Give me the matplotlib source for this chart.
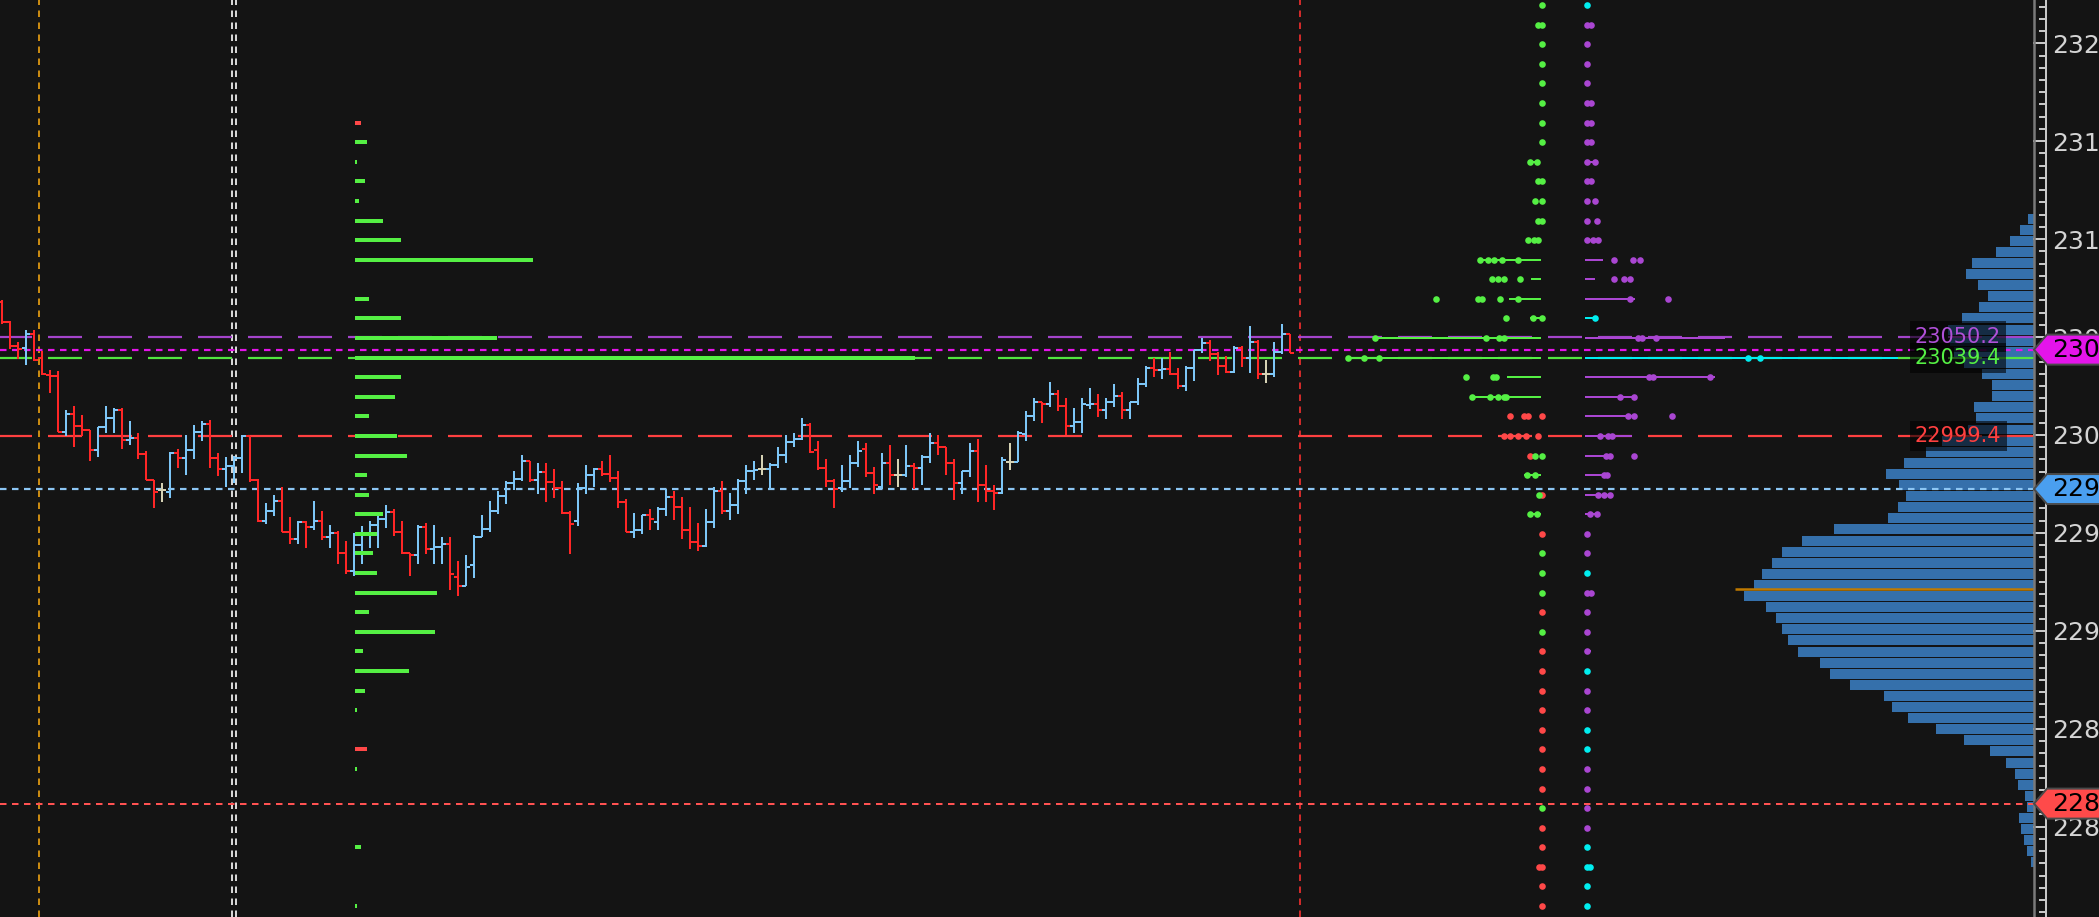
import numpy as np
import matplotlib
matplotlib.use("Agg")
import matplotlib.pyplot as plt
from matplotlib.ticker import MultipleLocator, FormatStrFormatter
from matplotlib.patches import Polygon
import matplotlib.transforms as mtransforms

plt.rcParams['lines.scale_dashes'] = False
plt.rcParams['font.family'] = ['DejaVu Sans']

# ---------------- DATA ----------------
opens = [23068.1, 23057.5, 23045.2, 23044.3, 23051.6, 23039.2, 23030.8, 23029.9, 23001.6, 23010.6,
         23004.7, 23002.5, 22992.4, 23003.9, 23008.8, 23012.8, 22997.4, 22998.6, 22990.3, 22977.1,
         22971.7, 22971.0, 22990.7, 22988.5, 22992.5, 23001.6, 23005.7, 22988.5, 22982.4, 22984.4,
         22988.5, 22999.5, 22977.1, 22956.2, 22961.2, 22966.3, 22950.7, 22947.0, 22955.8, 22952.8,
         22956.2, 22947.7, 22950.1, 22939.9, 22930.4, 22943.6, 22948.7, 22953.8, 22957.2, 22960.9,
         22950.7, 22939.9, 22938.6, 22952.8, 22942.0, 22943.0, 22944.6, 22927.7, 22922.7, 22933.5,
         22948.0, 22952.1, 22961.2, 22969.0, 22975.4, 22977.5, 22986.6, 22977.1, 22981.2, 22976.1,
         22972.7, 22960.2, 22956.2, 22972.7, 22979.5, 22982.6, 22980.2, 22978.2, 22966.0, 22950.7,
         22951.7, 22959.2, 22955.8, 22962.3, 22968.3, 22963.3, 22951.7, 22945.2, 22943.1, 22955.8,
         22971.4, 22961.2, 22964.3, 22976.5, 22981.5, 22982.6, 22982.6, 22984.6, 22989.7, 22996.4,
         22997.8, 23004.9, 22992.4, 22982.9, 22976.5, 22973.1, 22976.5, 22985.6, 22992.7, 22980.5,
         22973.4, 22985.6, 22979.5, 22979.5, 22984.2, 22983.2, 22988.7, 22995.8, 22993.7, 22985.6,
         22975.4, 22981.5, 22991.7, 22974.4, 22971.4, 22970.4, 22986.3, 22986.3, 23000.5, 23009.6,
         23016.7, 23015.7, 23020.8, 23014.7, 23004.5, 23006.6, 23015.4, 23015.7, 23013.0, 23017.1,
         23020.1, 23013.0, 23017.1, 23026.2, 23034.3, 23033.3, 23033.5, 23031.3, 23025.2, 23034.3,
         23043.5, 23047.2, 23041.4, 23035.4, 23032.3, 23044.5, 23039.4, 23047.5, 23031.3, 23031.3,
         23042.5, 23051.6]
highs = [23068.9, 23058.0, 23047.3, 23053.6, 23053.6, 23043.1, 23033.3, 23032.5, 23013.0, 23015.0,
         23010.0, 23002.5, 23003.9, 23015.0, 23014.0, 23014.0, 23006.9, 23000.8, 22991.7, 22977.1,
         22975.4, 22991.5, 22992.7, 22999.8, 23004.9, 23006.9, 23007.9, 22990.7, 22988.7, 22989.3,
         22999.8, 22999.5, 22977.5, 22965.3, 22969.4, 22973.4, 22958.2, 22956.2, 22956.2, 22966.3,
         22961.2, 22954.1, 22951.1, 22946.0, 22950.1, 22953.4, 22956.2, 22959.2, 22964.3, 22962.3,
         22956.2, 22939.9, 22954.1, 22955.2, 22954.1, 22948.0, 22948.0, 22935.9, 22938.9, 22949.1,
         22959.2, 22966.3, 22971.4, 22976.5, 22981.5, 22989.7, 22986.6, 22985.6, 22985.6, 22982.6,
         22976.5, 22961.2, 22975.4, 22984.6, 22982.9, 22986.6, 22989.7, 22981.5, 22967.3, 22960.2,
         22959.2, 22962.3, 22963.3, 22972.4, 22971.4, 22968.3, 22963.3, 22955.3, 22962.3, 22973.4,
         22976.5, 22970.4, 22977.5, 22984.6, 22986.6, 22989.7, 22985.6, 22993.7, 22999.8, 23000.8,
         23008.9, 23005.9, 22996.8, 22987.6, 22977.5, 22984.6, 22989.7, 22996.8, 22995.8, 22983.6,
         22990.7, 22994.7, 22987.6, 22994.7, 22985.6, 22989.7, 23000.8, 22999.8, 22993.7, 22987.6,
         22981.5, 22995.8, 22997.8, 22984.6, 22974.4, 22988.7, 22995.8, 23001.9, 23012.0, 23019.1,
         23017.1, 23027.2, 23023.2, 23019.1, 23014.0, 23019.1, 23024.2, 23021.1, 23019.1, 23026.2,
         23022.2, 23017.1, 23029.3, 23035.4, 23039.4, 23039.4, 23042.5, 23034.3, 23035.4, 23043.5,
         23049.6, 23048.6, 23042.5, 23040.4, 23045.5, 23045.5, 23055.7, 23048.6, 23038.4, 23047.5,
         23056.7, 23051.6]
lows = [23056.7, 23044.0, 23038.9, 23035.9, 23038.0, 23030.8, 23021.4, 23001.6, 22999.5, 22994.0,
        22999.6, 22986.9, 22989.0, 23001.1, 23001.1, 22993.0, 22995.0, 22987.9, 22977.1, 22962.6,
        22965.6, 22967.6, 22982.9, 22979.8, 22987.9, 22997.1, 22982.9, 22979.2, 22973.7, 22975.4,
        22980.8, 22976.1, 22955.8, 22954.4, 22958.5, 22950.7, 22944.3, 22944.3, 22942.3, 22951.4,
        22946.3, 22942.3, 22934.1, 22929.1, 22928.0, 22934.1, 22942.3, 22942.3, 22952.4, 22948.4,
        22939.2, 22928.0, 22934.1, 22939.2, 22934.1, 22934.1, 22920.9, 22917.9, 22922.7, 22927.0,
        22948.0, 22950.4, 22959.5, 22964.6, 22971.7, 22976.5, 22976.1, 22969.7, 22965.6, 22967.6,
        22959.5, 22939.2, 22953.4, 22969.7, 22973.7, 22979.2, 22975.8, 22962.6, 22950.4, 22947.3,
        22949.2, 22951.7, 22951.7, 22958.5, 22956.5, 22946.7, 22941.6, 22940.6, 22942.6, 22952.4,
        22959.5, 22956.5, 22959.5, 22969.7, 22976.8, 22979.8, 22972.4, 22982.9, 22985.9, 22994.0,
        22997.4, 22991.0, 22982.2, 22973.7, 22962.6, 22970.7, 22972.7, 22983.9, 22978.8, 22969.7,
        22972.4, 22974.7, 22973.7, 22978.8, 22972.4, 22974.7, 22985.9, 22990.0, 22979.8, 22966.6,
        22969.7, 22978.8, 22965.6, 22965.6, 22961.5, 22969.7, 22981.9, 22986.3, 22997.1, 23007.2,
        23006.2, 23014.3, 23012.3, 22999.8, 23001.1, 23001.1, 23013.3, 23009.3, 23008.3, 23014.3,
        23008.3, 23008.3, 23015.4, 23024.5, 23029.6, 23028.6, 23030.6, 23023.5, 23022.5, 23027.5,
        23041.7, 23037.7, 23030.6, 23031.6, 23031.6, 23034.7, 23031.6, 23028.6, 23026.5, 23029.6,
        23041.4, 23041.7]
closes = [23057.5, 23045.2, 23044.0, 23051.6, 23038.4, 23030.9, 23029.9, 23001.6, 23010.6, 23004.7,
          23002.5, 22992.4, 23003.9, 23008.8, 23012.8, 22997.4, 22998.6, 22990.3, 22977.1, 22971.0,
          22971.7, 22990.7, 22988.5, 22992.5, 23001.6, 23005.7, 22988.5, 22982.4, 22984.4, 22988.5,
          22999.5, 22977.1, 22956.2, 22961.2, 22966.3, 22950.7, 22947.0, 22955.8, 22952.8, 22956.2,
          22947.7, 22950.1, 22939.9, 22930.4, 22943.6, 22948.7, 22953.8, 22957.2, 22960.9, 22950.7,
          22939.9, 22938.6, 22952.8, 22942.0, 22943.0, 22944.6, 22928.8, 22922.7, 22932.8, 22948.0,
          22952.1, 22961.2, 22969.0, 22975.4, 22977.5, 22986.6, 22977.1, 22981.2, 22976.1, 22972.7,
          22960.2, 22954.8, 22972.7, 22979.5, 22982.6, 22980.2, 22978.2, 22966.0, 22950.7, 22951.7,
          22959.2, 22957.2, 22962.3, 22968.3, 22963.3, 22951.7, 22945.2, 22943.1, 22955.8, 22971.4,
          22961.2, 22964.3, 22976.5, 22981.5, 22982.2, 22982.6, 22984.6, 22989.7, 22996.4, 22997.8,
          23004.9, 22991.3, 22982.9, 22976.5, 22972.4, 22976.5, 22985.6, 22991.7, 22980.5, 22974.4,
          22985.6, 22979.5, 22979.5, 22984.2, 22983.2, 22988.7, 22995.8, 22993.7, 22985.6, 22975.4,
          22981.5, 22991.7, 22974.4, 22971.4, 22970.4, 22987.3, 22986.3, 23000.8, 23009.6, 23016.7,
          23015.7, 23020.8, 23014.7, 23004.5, 23006.6, 23015.7, 23015.7, 23013.0, 23017.1, 23020.1,
          23013.0, 23017.1, 23026.2, 23034.3, 23033.3, 23033.5, 23031.3, 23025.2, 23034.3, 23043.5,
          23047.2, 23041.4, 23035.4, 23032.3, 23044.5, 23039.4, 23047.5, 23031.3, 23031.3, 23042.5,
          23051.6, 23042.1]

# left session histogram (green / red)
hist_levels = [23159.5, 23149.5, 23139.5, 23129.5, 23119.5, 23109.5, 23099.5, 23089.5, 23069.5, 23059.5,
               23049.5, 23039.5, 23029.5, 23019.5, 23009.5, 22999.5, 22989.5, 22979.5, 22969.5, 22959.5,
               22949.5, 22939.5, 22929.5, 22919.5, 22909.5, 22899.5, 22889.5, 22879.5, 22869.5, 22859.5,
               22839.5, 22829.5, 22789.5, 22759.5]
hist_vol = [6, 12, 2, 10, 4, 28, 46, 178, 14, 46, 142, 560, 46, 40, 14, 42, 52, 12, 14, 28,
            22, 18, 22, 82, 14, 80, 8, 54, 10, 2, 12, 2, 6, 2]
hist_col = "RGGGGGGGGGGGGGGGGGGGGGGGGGGGGGRGGG"

# right volume profile
profile_top = 23110.5
profile_step = 5.668
profile_vol = [6, 14, 24, 38, 62, 68, 56, 46, 55, 72, 86, 84, 80, 70, 52, 42, 42, 60, 58, 66,
               92, 108, 130, 148, 135, 128, 136, 146, 200, 232, 252, 262, 272, 280, 290, 268, 258, 252, 246, 236,
               214, 204, 184, 150, 142, 126, 98, 70, 44, 28, 19, 16, 9, 7, 15, 13, 10, 7, 3]
poc_price = 22921.4

# key levels
level_purple = 23050.2
level_green = 23039.4
level_red = 22999.4
last_price = 23043.6
blue_price = 22972.4
low_price = 22811.8

# footprint ladder (10-pt rows)
fp_levels = np.arange(23219.5, 22755.0, -10.0)
fpA_base = "GGGGGGGG-GGG----G----R-G-R-RGGGRGRRRRRRRRGRRRRR"
fpB_base = "CPPPPPPPPPPPP--------------PPCPPPPCPPCCPPPPCCCC"
fpA_line_k = [13, 14, 15, 16, 17, 18, 19, 20, 22, 24, 26, 8]
fpA_line_from = [184.8, 191.2, 188.4, 191.0, 171.7, 168.3, 188.2, 183.8, 187.0, 190.3, 191.0, 191.0]
fpA_line_to = [192.4, 192.4, 192.4, 192.5, 192.4, 192.4, 192.4, 192.4, 191.3, 192.4, 192.4, 191.9]
fpA_line_c = "GGGGGGGGRGGG"
fpA_dot_k = [1, 8, 8, 9, 10, 11, 12, 12, 12, 13, 13, 13, 13, 13, 14, 14, 14, 14, 15, 15, 15, 15, 15,
             16, 16, 17, 17, 17, 17, 18, 18, 18, 19, 19, 19, 20, 20, 20, 20, 20, 21, 21, 21,
             22, 22, 22, 22, 22, 23, 23, 24, 24, 25, 26, 26, 44]
fpA_dot_x = [192.0, 191.0, 191.9, 192.0, 191.6, 192.0, 190.8, 191.5, 192.0,
             184.8, 185.8, 186.5, 187.5, 189.5, 186.3, 187.0, 187.8, 189.8,
             179.3, 184.5, 185.0, 187.3, 189.5, 188.0, 191.4, 171.7, 185.5, 187.2, 187.8,
             168.3, 170.3, 172.2, 183.0, 186.4, 186.8, 183.8, 186.0, 187.0, 187.8, 188.0,
             188.5, 190.3, 190.8, 187.8, 188.5, 189.5, 190.5, 192.0, 191.0, 191.6,
             190.7, 191.7, 192.2, 191.0, 191.9, 192.1]
fpA_dot_c = "GGGGGGGGGGGGGGGGGGGGGGGGGGGGGGGGGGGGGGGGRRRRRRRRRGGGGGGR"
fpB_line_k = [12, 13, 14, 15, 16, 17, 18, 19, 20, 21, 22, 23, 24, 25, 26, 8, 30, 33]
fpB_line_to = [199.8, 200.2, 199.2, 204.2, 199.2, 215.4, 237.0, 214.2, 204.4, 204.4, 203.8, 201.0,
               200.7, 201.3, 199.8, 199.2, 198.6, 198.6]
fpB_line_c = "PPPPCPCPPPPPPPPPPP"
fpB_dot_k = [1, 5, 6, 7, 8, 9, 10, 11, 12, 12, 13, 13, 13, 14, 14, 14, 15, 15, 16, 17, 17, 17, 18, 18,
             19, 19, 19, 20, 20, 21, 21, 21, 22, 22, 22, 23, 23, 23, 24, 24, 25, 25, 25, 26, 26, 30, 44]
fpB_dot_x = [198.7, 198.7, 198.7, 198.7, 199.2, 198.7, 199.2, 199.4, 198.9, 199.5,
             201.5, 203.9, 204.8, 201.5, 202.8, 203.5, 203.5, 208.3, 199.2,
             204.5, 205.0, 206.8, 218.3, 219.8, 205.9, 206.4, 213.5, 202.3, 204.0,
             203.3, 204.0, 208.8, 199.8, 200.8, 201.3, 200.5, 201.0, 204.0,
             200.3, 200.7, 199.5, 200.3, 201.0, 198.5, 199.4, 198.6, 198.5]
fpB_dot_c = "PPPPPPPPPPPPPPPPPPCPPPCCPPPPPPPPPPPPPPPPPPPPPPC"

# ---------------- STYLE / LAYOUT ----------------
W, H, DPI = 2099, 917, 100
BG = '#141414'
AX_W = 2034
PX_PER_BAR = 8.0
X0 = -0.2125
Y_TOP, Y_BOT = 23222.1, 22753.9
PT_PER_PX = (Y_TOP - Y_BOT) / H


def pt(px):
    return px * 72.0 / DPI


def px_to_x(px):
    return X0 + px / PX_PER_BAR


C_UP, C_DN, C_DOJI = '#7dc6f7', '#ff2626', '#d6d2b4'
FP_COL = {'G': '#55f044', 'R': '#ff4848', 'P': '#aa46d2', 'C': '#00eef0'}
LV_PURPLE, LV_GREEN, LV_RED = '#a444cc', '#52e640', '#ff4040'

fig = plt.figure(figsize=(W / DPI, H / DPI), dpi=DPI, facecolor=BG)
ax = fig.add_axes([0, 0, AX_W / W, 1])
ax.set_facecolor(BG)
for s in ax.spines.values():
    s.set_visible(False)
ax.set_xticks([])
ax.set_yticks([])
XMAX = X0 + AX_W / PX_PER_BAR
ax.set_xlim(X0, XMAX)
ax.set_ylim(Y_BOT, Y_TOP)

# volume profile (right aligned)
prof_levels = profile_top - profile_step * np.arange(len(profile_vol))
pv = np.array(profile_vol, dtype=float) / PX_PER_BAR
ax.barh(prof_levels, pv, left=XMAX - pv, height=profile_step * 0.9,
        color='#3570ab', edgecolor='none', zorder=1)
ax.hlines(poc_price, XMAX - max(profile_vol) * 1.03 / PX_PER_BAR, XMAX,
          color='#c07a00', lw=pt(2.5), zorder=1.5)

# vertical markers
sd = (0, (pt(6.5), pt(5.5)))
ax.axvline(px_to_x(39), color='#c98a12', lw=pt(2), ls=sd, zorder=2)
ax.axvline(px_to_x(232.3), color='#d6d6d6', lw=pt(2), ls=sd, zorder=2)
ax.axvline(px_to_x(235.8), color='#d6d6d6', lw=pt(2), ls=sd, zorder=2)
ax.axvline(px_to_x(1299.5), color='#ff3030', lw=pt(1.6), ls=sd, zorder=2)

# cyan line under green level (drawn first, dashes on top)
ax.hlines(level_green, 197.9, px_to_x(1898), color='#00eef0', lw=pt(1.8), zorder=1.9)

# long-dashed key levels
ld = (pt(2), (pt(34), pt(16)))
for val, colr in [(level_purple, LV_PURPLE), (level_green, LV_GREEN), (level_red, LV_RED)]:
    ax.axhline(val, color=colr, lw=pt(2.2), ls=ld, zorder=2)
    # solid leaders around the price label
    ax.hlines(val, px_to_x(1898), px_to_x(1912), color=colr, lw=pt(2), zorder=2.1)
    ax.hlines(val, px_to_x(1997), XMAX, color=colr, lw=pt(2), zorder=2.1)

# short dashed price lines
ax.axhline(last_price, color='#e414ea', lw=pt(2.2), ls=sd, zorder=2.2)
ax.axhline(blue_price, color='#8cc6f4', lw=pt(2.2), ls=sd, zorder=2.2)
ax.axhline(low_price, color='#ff5252', lw=pt(2), ls=sd, zorder=2.2)

# OHLC bars
n = len(opens)
x = np.arange(n)
cols = [C_UP if c > o else (C_DN if c < o else C_DOJI) for o, c in zip(opens, closes)]
ax.vlines(x, lows, highs, colors=cols, lw=pt(2), zorder=3)
ax.hlines(opens, x - 0.5, x, colors=cols, lw=pt(2), zorder=3)
ax.hlines(closes, x, x + 0.5, colors=cols, lw=pt(2), zorder=3)

# left session histogram
hv = np.array(hist_vol, dtype=float) / PX_PER_BAR
ax.barh(hist_levels, hv, left=px_to_x(355), height=4 * PT_PER_PX,
        color=[FP_COL[c] for c in hist_col], edgecolor='none', zorder=4)

# footprint columns
COL_A, COL_B = 192.5, 198.2
ms = pt(6.6)
for k, x1, x2, c in zip(fpA_line_k, fpA_line_from, fpA_line_to, fpA_line_c):
    ax.hlines(fp_levels[k], x1, x2, color=FP_COL[c], lw=pt(2), zorder=5)
for k, x2, c in zip(fpB_line_k, fpB_line_to, fpB_line_c):
    ax.hlines(fp_levels[k], 197.9, x2, color=FP_COL[c], lw=pt(2), zorder=5)
for k, c in enumerate(fpA_base):
    if c != '-':
        ax.plot(COL_A, fp_levels[k], 'o', color=FP_COL[c], ms=ms, mec='none', zorder=6)
for k, c in enumerate(fpB_base):
    if c != '-':
        ax.plot(COL_B, fp_levels[k], 'o', color=FP_COL[c], ms=ms, mec='none', zorder=6)
for k, xx, c in zip(fpA_dot_k, fpA_dot_x, fpA_dot_c):
    ax.plot(xx, fp_levels[k], 'o', color=FP_COL[c], ms=ms, mec='none', zorder=6)
for k, xx, c in zip(fpB_dot_k, fpB_dot_x, fpB_dot_c):
    ax.plot(xx, fp_levels[k], 'o', color=FP_COL[c], ms=ms, mec='none', zorder=6)

# level labels
box = dict(boxstyle='square,pad=0.25', fc='#000000', alpha=0.6, ec='none')
for val, colr in [(level_purple, '#b050d8'), (level_green, '#55f044'), (level_red, '#ff4040')]:
    ax.text(px_to_x(1915), val, f"{val:.1f}", color=colr, fontsize=15,
            va='center', ha='left', bbox=box, zorder=7)

# right price axis strip
axr = fig.add_axes([AX_W / W, 0, 12 / W, 1])
axr.set_facecolor(BG)
axr.set_ylim(Y_BOT, Y_TOP)
axr.set_xticks([])
axr.yaxis.tick_right()
axr.yaxis.set_major_locator(MultipleLocator(50))
axr.yaxis.set_minor_locator(MultipleLocator(6.25))
axr.yaxis.set_major_formatter(FormatStrFormatter('%d'))
axr.tick_params(axis='y', which='major', direction='in', length=pt(13), width=pt(2),
                color='#c8c8c8', labelsize=18, labelcolor='#d4d4d4', pad=pt(6))
axr.tick_params(axis='y', which='minor', direction='in', length=pt(7), width=pt(2),
                color='#c8c8c8')
axr.spines['top'].set_visible(False)
axr.spines['bottom'].set_visible(False)
axr.spines['left'].set_color('#7a7a7a')
axr.spines['left'].set_linewidth(pt(2.5))
axr.spines['right'].set_color('#c8c8c8')
axr.spines['right'].set_linewidth(pt(2))

# price tags
blend = mtransforms.blended_transform_factory(fig.transFigure, ax.transData)
hh = 15 * PT_PER_PX
for price, fc, label in [(last_price, '#e414ea', '23043.75'),
                         (blue_price, '#4a9ff0', '22972.50'),
                         (low_price, '#ff4a4a', '22811.75')]:
    poly = Polygon([(2034 / W, price), (2047 / W, price + hh), (1.02, price + hh),
                    (1.02, price - hh), (2047 / W, price - hh)], closed=True,
                   transform=blend, facecolor=fc, edgecolor='#4a4a4a', lw=pt(2),
                   clip_on=False, zorder=5)
    fig.add_artist(poly)
    fig.text(2052 / W, price, label, transform=blend, fontsize=18, color='black',
             va='center', ha='left', zorder=6)

fig.savefig('out.png', dpi=DPI, facecolor=BG)
